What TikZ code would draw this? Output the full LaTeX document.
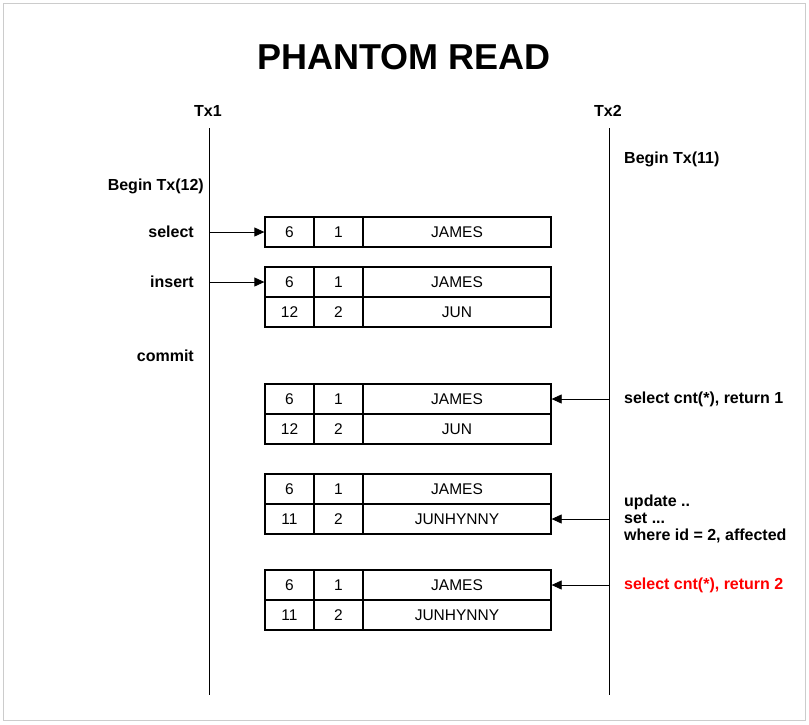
\documentclass[tikz,border=0pt]{standalone}
\usepackage{fontspec}
\setmainfont{Liberation Sans}
\usetikzlibrary{arrows.meta}
\begin{document}
\begin{tikzpicture}[x=1pt,y=-1pt,
  cell/.style={draw,line width=1.3pt,minimum height=30pt,inner sep=0pt,font=\fontsize{15.5}{15.5}\selectfont},
  lbl/.style={font=\fontsize{16}{17}\selectfont\bfseries,inner sep=0pt},
  arr/.style={-{Triangle[length=10pt,width=9pt]},line width=0.8pt}]
\useasboundingbox (0,0) rectangle (809,724);
\draw[gray!40,line width=1pt] (3,3) rectangle (805,720);
\node[font=\fontsize{36}{40}\selectfont\bfseries] (title) at (404,57) {PHANTOM READ};
\node[lbl] (tx1) at (208,111) {Tx1};
\node[lbl] (tx2) at (608,111) {Tx2};
\coordinate (l1a) at (209,128); \coordinate (l1b) at (209,695);
\coordinate (l2a) at (609,128); \coordinate (l2b) at (609,695);
\draw[line width=0.8pt] (l1a) -- (l1b);
\draw[line width=0.8pt] (l2a) -- (l2b);
\newcommand{\mkrow}[5]{%
 \node[cell,minimum width=49pt] (#1a) at (289.5,#2) {#3};
 \node[cell,minimum width=49pt] (#1b) at (338.5,#2) {#4};
 \node[cell,minimum width=188pt] (#1c) at (457,#2) {#5};}
\mkrow{r1}{232}{6}{1}{JAMES}
\mkrow{r2}{282}{6}{1}{JAMES}
\mkrow{r3}{312}{12}{2}{JUN}
\mkrow{r4}{399}{6}{1}{JAMES}
\mkrow{r5}{429}{12}{2}{JUN}
\mkrow{r6}{489}{6}{1}{JAMES}
\mkrow{r7}{519}{11}{2}{JUNHYNNY}
\mkrow{r8}{585}{6}{1}{JAMES}
\mkrow{r9}{615}{11}{2}{JUNHYNNY}
\node[lbl,anchor=east] (b12) at (204,186) {Begin Tx(12)};
\node[lbl,anchor=east] (sel) at (194,232) {select};
\node[lbl,anchor=east] (ins) at (194,282) {insert};
\node[lbl,anchor=east] (com) at (194,356) {commit};
\node[lbl,anchor=west] (b11) at (624,159) {Begin Tx(11)};
\node[lbl,anchor=west] (s1) at (624,399) {select cnt(*), return 1};
\node[lbl,anchor=west,align=left] (upd) at (624,519) {update ..\\set ...\\where id = 2, affected};
\node[lbl,anchor=west,text=red] (s2) at (624,585) {select cnt(*), return 2};
\coordinate (a1) at (209,232); \coordinate (a2) at (209,282);
\coordinate (a3) at (609,399); \coordinate (a4) at (609,519); \coordinate (a5) at (609,585);
\draw[arr] (a1) -- (r1a.west);
\draw[arr] (a2) -- (r2a.west);
\draw[arr] (a3) -- (r4c.east);
\draw[arr] (a4) -- (r7c.east);
\draw[arr] (a5) -- (r8c.east);
\end{tikzpicture}
\end{document}
